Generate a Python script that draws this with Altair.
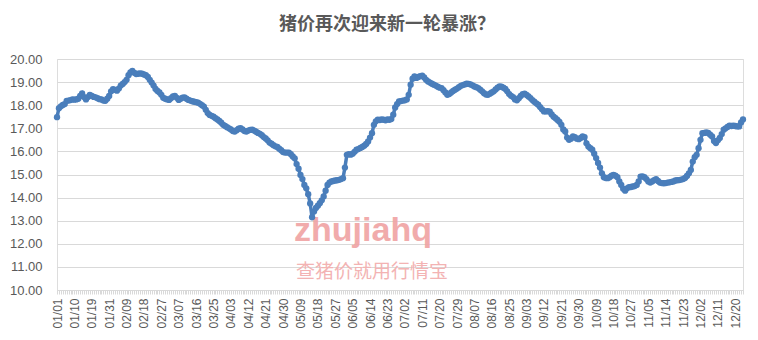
import altair as alt
import pandas as pd

title_text = "猪价再次迎来新一轮暴涨？"
watermark_en = "zhujiahq"
watermark_cn = "查猪价就用行情宝"

prices = [
    17.48, 17.87, 17.95, 18.01, 18.05, 18.19, 18.20, 18.22, 18.25, 18.24,
    18.25, 18.28, 18.40, 18.51, 18.35, 18.25, 18.35, 18.44, 18.40, 18.36,
    18.34, 18.30, 18.26, 18.25, 18.20, 18.19, 18.28, 18.40, 18.60, 18.69,
    18.66, 18.63, 18.72, 18.85, 18.92, 19.00, 19.10, 19.30, 19.42, 19.48,
    19.40, 19.35, 19.36, 19.38, 19.36, 19.33, 19.30, 19.22, 19.10, 18.98,
    18.85, 18.70, 18.62, 18.55, 18.45, 18.32, 18.28, 18.25, 18.23, 18.30,
    18.38, 18.40, 18.32, 18.23, 18.28, 18.33, 18.34, 18.28, 18.23, 18.20,
    18.17, 18.15, 18.13, 18.11, 18.06, 18.00, 17.94, 17.80, 17.66, 17.58,
    17.54, 17.50, 17.44, 17.38, 17.32, 17.24, 17.15, 17.10, 17.05, 17.00,
    16.95, 16.88, 16.86, 16.92, 16.98, 17.01, 16.95, 16.88, 16.86, 16.90,
    16.93, 16.94, 16.90, 16.85, 16.80, 16.76, 16.70, 16.62, 16.56, 16.48,
    16.38, 16.33, 16.27, 16.22, 16.19, 16.12, 16.05, 15.97, 15.95, 15.95,
    15.95, 15.88, 15.78, 15.70, 15.45, 15.25, 14.98, 14.80, 14.55, 14.40,
    14.15, 13.75, 13.15, 13.40, 13.55, 13.65, 13.76, 13.88, 14.05, 14.30,
    14.55, 14.65, 14.70, 14.72, 14.74, 14.75, 14.77, 14.80, 14.84, 15.30,
    15.85, 15.88, 15.86, 15.90, 15.98, 16.07, 16.10, 16.15, 16.19, 16.25,
    16.32, 16.43, 16.60, 16.79, 17.15, 17.30, 17.37, 17.36, 17.38, 17.37,
    17.35, 17.38, 17.37, 17.40, 17.59, 17.90, 18.05, 18.16, 18.18, 18.20,
    18.21, 18.25, 18.45, 18.89, 19.15, 19.25, 19.18, 19.22, 19.26, 19.28,
    19.20, 19.10, 19.03, 18.98, 18.93, 18.89, 18.85, 18.80, 18.76, 18.74,
    18.65, 18.55, 18.45, 18.48, 18.55, 18.62, 18.67, 18.72, 18.78, 18.84,
    18.87, 18.90, 18.93, 18.92, 18.90, 18.86, 18.81, 18.78, 18.74, 18.67,
    18.60, 18.52, 18.46, 18.45, 18.50, 18.55, 18.60, 18.68, 18.76, 18.81,
    18.80, 18.76, 18.70, 18.60, 18.48, 18.40, 18.35, 18.25, 18.21, 18.30,
    18.40, 18.48, 18.50, 18.44, 18.38, 18.31, 18.22, 18.15, 18.08, 18.02,
    17.92, 17.82, 17.73, 17.73, 17.74, 17.72, 17.60, 17.50, 17.44, 17.36,
    17.28, 17.15, 16.95, 16.86, 16.60, 16.50, 16.55, 16.65, 16.62, 16.55,
    16.53, 16.58, 16.65, 16.62, 16.35, 16.21, 16.14, 16.07, 15.90, 15.71,
    15.50, 15.30, 15.05, 14.88, 14.85, 14.84, 14.88, 14.95, 14.98, 14.95,
    14.88, 14.70, 14.55, 14.38, 14.30, 14.40, 14.45, 14.46, 14.48, 14.50,
    14.55, 14.70, 14.91, 14.92, 14.88, 14.80, 14.70, 14.65, 14.70, 14.76,
    14.80, 14.72, 14.65, 14.63, 14.62, 14.63, 14.65, 14.66, 14.68, 14.70,
    14.74, 14.75, 14.76, 14.78, 14.80, 14.85, 14.94, 15.05, 15.20, 15.56,
    15.75, 15.85, 16.14, 16.50, 16.79, 16.80, 16.82, 16.80, 16.72, 16.65,
    16.45, 16.36, 16.48, 16.58, 16.75, 16.94, 17.00, 17.06, 17.11, 17.10,
    17.11, 17.10, 17.08, 17.08, 17.25, 17.38,
]

missing_days = ["01/24", "01/25", "01/26"]
all_days = pd.date_range("2020-01-01", "2020-12-24", freq="D")
days = [d.strftime("%m/%d") for d in all_days if d.strftime("%m/%d") not in missing_days]
days = days[:len(prices)]
shown_labels = days[::9]

y_ticks = [10, 11, 12, 13, 14, 15, 16, 17, 18, 19, 20]

df = pd.DataFrame({"day": days, "price": prices})

label_list = ",".join("'" + s + "'" for s in shown_labels)
label_expr = f"indexof([{label_list}], datum.label) >= 0 ? datum.label : ''"

blue = "#4a7ebb"
x_enc = alt.X(
    "day:O",
    sort=None,
    scale=alt.Scale(type="point", padding=0),
    axis=alt.Axis(
        title=None,
        labelAngle=270,
        labelExpr=label_expr,
        labelOverlap=False,
        labelFontSize=12,
        labelFont="Liberation Sans",
        labelColor="#595959",
        labelPadding=4,
        tickColor="#d9d9d9",
        tickSize=4,
        domainColor="#d9d9d9",
        grid=False,
    ),
)
y_enc = alt.Y(
    "price:Q",
    scale=alt.Scale(domain=[10, 20], nice=False, zero=False),
    axis=alt.Axis(
        title=None,
        values=y_ticks,
        format=".2f",
        domain=False,
        ticks=False,
        labelPadding=15,
        labelFontSize=13,
        labelFont="Liberation Sans",
        labelColor="#595959",
        gridColor="#d9d9d9",
        gridWidth=1,
    ),
)

base = alt.Chart(df)
line = base.mark_line(color=blue, strokeWidth=3.5).encode(x=x_enc, y=y_enc)
dots = base.mark_circle(color=blue, size=40, opacity=1).encode(x=x_enc, y=y_enc)

wm_en = alt.Chart(pd.DataFrame({"t": [watermark_en]})).mark_text(
    font="Liberation Sans", fontSize=34, fontWeight="bold", color="#f0a3a3",
    align="center", baseline="middle", opacity=0.9,
).encode(text="t:N", x=alt.value(306), y=alt.value(172))

wm_cn = alt.Chart(pd.DataFrame({"t": [watermark_cn]})).mark_text(
    font="Noto Sans CJK SC", fontSize=19, color="#f3b3b3",
    align="center", baseline="middle",
).encode(text="t:N", x=alt.value(315), y=alt.value(213))

chart = alt.layer(wm_en, wm_cn, line, dots).properties(
    width=686,
    height=231,
    autosize=alt.AutoSizeParams(type="none"),
    padding={"left": 57, "top": 59, "right": 15, "bottom": 50},
    title=alt.Title(
        title_text,
        font="Noto Sans CJK SC",
        fontSize=18,
        fontWeight="bold",
        color="#595959",
        offset=19,
        dx=-13,
        anchor="middle",
    ),
).configure_view(stroke=None).configure(background="white")

chart.save("out.html", embed_options={"renderer": "svg", "actions": False})
